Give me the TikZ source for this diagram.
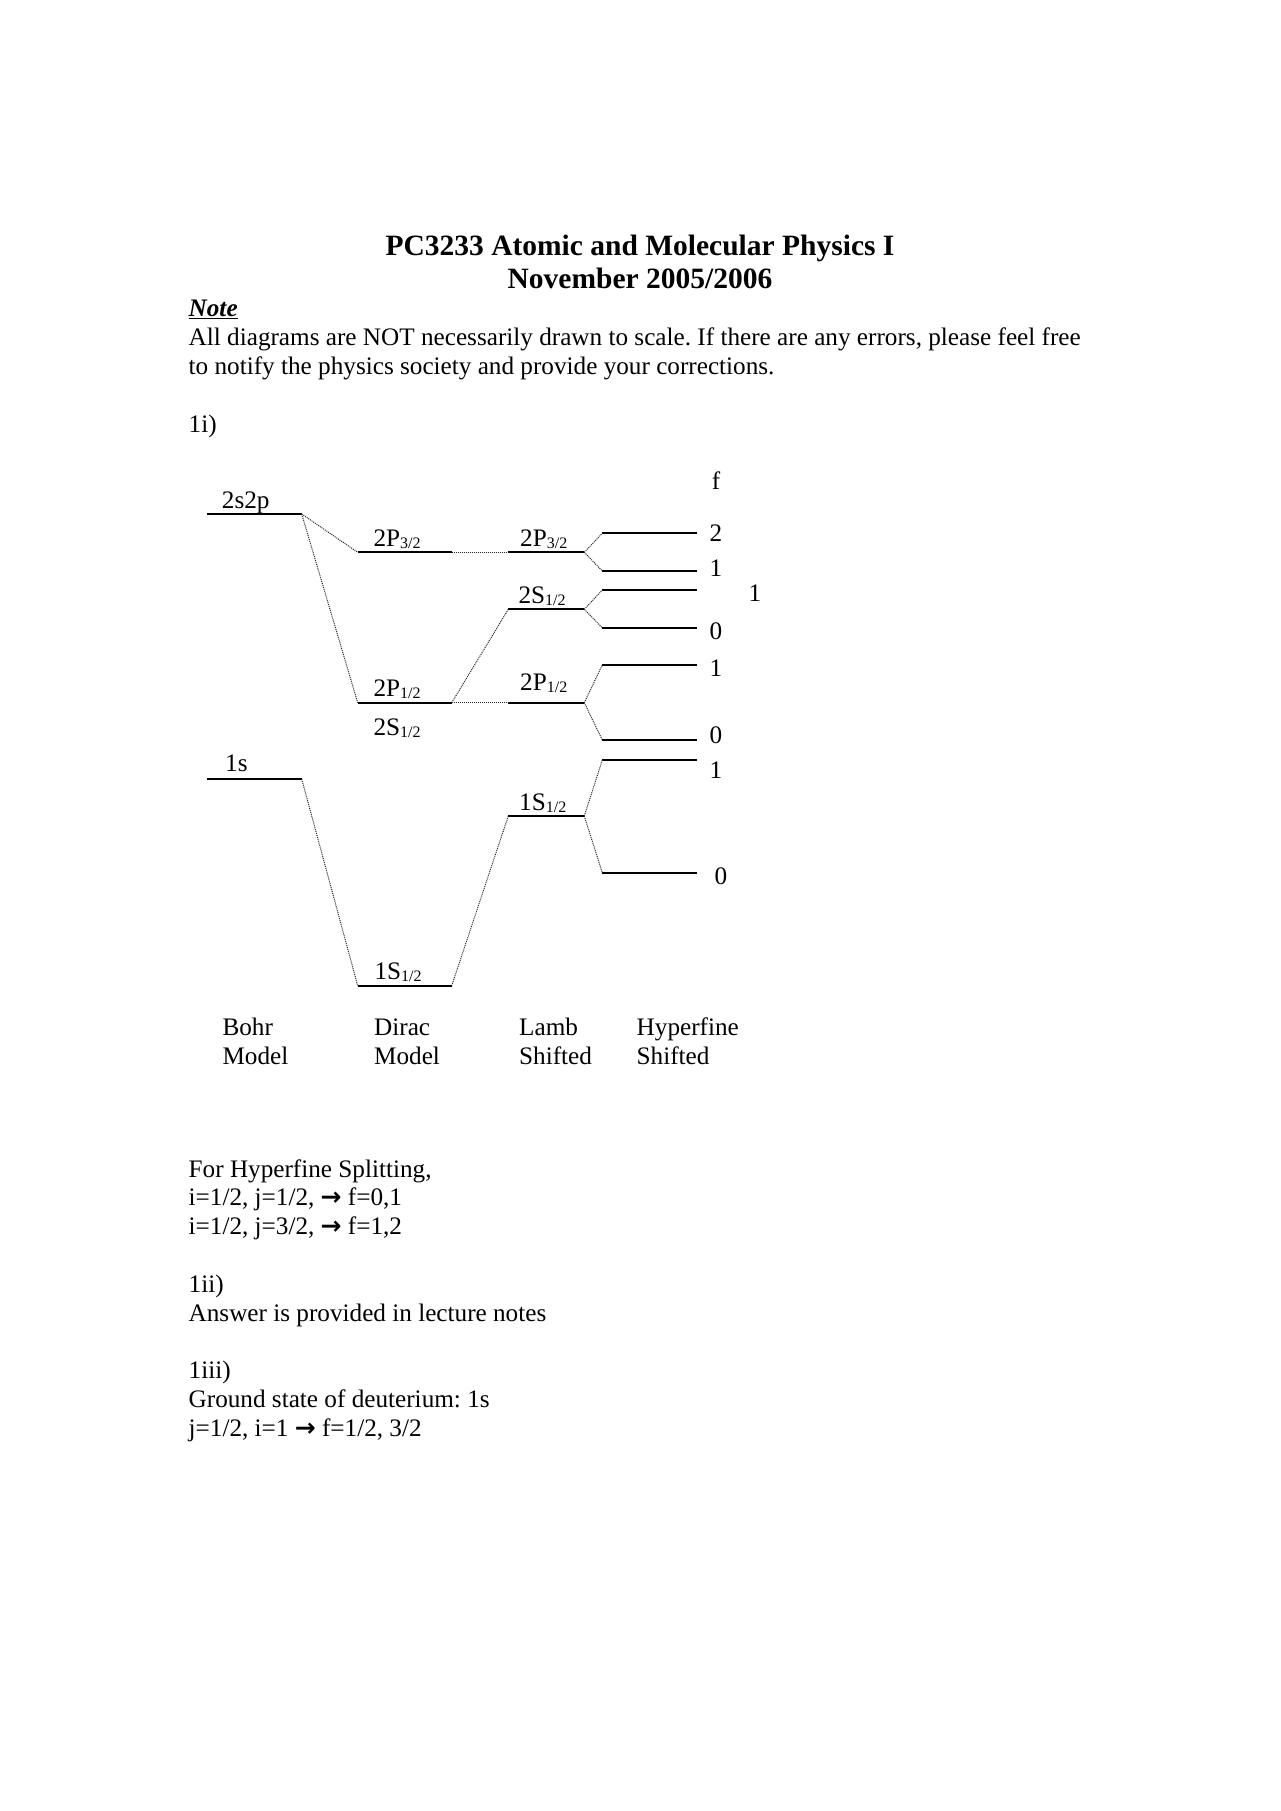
\documentclass[tikz,border=0pt]{standalone}
\usepackage{fontspec}
\setmainfont{Liberation Serif}
\newfontfamily\arrowfont{DejaVu Sans}
\newcommand{\sbs}[1]{\raisebox{-2pt}{\fontsize{16}{16}\selectfont #1}}
\newcommand{\rarr}{{\arrowfont\bfseries\fontsize{25}{25}\selectfont →}}
\frenchspacing
\begin{document}
\begin{tikzpicture}[x=1pt,y=-1pt,
  txt/.style={inner sep=0pt, anchor=base west, font=\fontsize{25.2}{28.8}\selectfont},
  ctxt/.style={inner sep=0pt, anchor=base, font=\fontsize{25.2}{28.8}\selectfont},
  ttl/.style={inner sep=0pt, anchor=base, font=\fontsize{29.5}{33}\selectfont\bfseries},
  lev/.style={line width=2pt},
  conn/.style={line width=1pt, black!85, dash pattern=on 1pt off 1pt}]
\useasboundingbox[fill=white] (0,0) rectangle (1280,1811);

% header
\node[ttl] (t1) at (640,255) {PC3233 Atomic and Molecular Physics I};
\node[ttl] (t2) at (640,288.3) {November 2005/2006};
\node[txt] (note) at (188.5,316.7) {\underline{\textbf{\textit{Note}}}};
\node[txt] (n1) at (188.5,345.5) {All diagrams are NOT necessarily drawn to scale. If there are any errors, please feel free};
\node[txt] (n2) at (188.5,374.3) {to notify the physics society and provide your corrections.};
\node[txt] (q1) at (188.5,432) {1i)};

% level coordinates
\coordinate (b2L) at (206.7,514);   \coordinate (b2R) at (301.7,514);
\coordinate (b1L) at (206.7,779);   \coordinate (b1R) at (301.7,779);
\coordinate (d3L) at (357.7,552.3); \coordinate (d3R) at (451.7,552.3);
\coordinate (d1L) at (357.7,702.7); \coordinate (d1R) at (451.7,702.7);
\coordinate (d0L) at (357.7,985.7); \coordinate (d0R) at (451.7,985.7);
\coordinate (l3L) at (508.3,552.3); \coordinate (l3R) at (584.3,552.3);
\coordinate (lsL) at (508.3,609.3); \coordinate (lsR) at (584.3,609.3);
\coordinate (lpL) at (508.3,702.7); \coordinate (lpR) at (584.3,702.7);
\coordinate (l0L) at (508.3,816);   \coordinate (l0R) at (584.3,816);
\coordinate (h2L) at (602.3,533.3); \coordinate (h2R) at (697.3,533.3);
\coordinate (h1L) at (602.3,571);   \coordinate (h1R) at (697.3,571);
\coordinate (h1bL) at (602.3,590);  \coordinate (h1bR) at (697.3,590);
\coordinate (h0L) at (602.3,627.7); \coordinate (h0R) at (697.3,627.7);
\coordinate (h1cL) at (602.3,665);  \coordinate (h1cR) at (697.3,665);
\coordinate (h0bL) at (602.3,740);  \coordinate (h0bR) at (697.3,740);
\coordinate (h1dL) at (602.3,760);  \coordinate (h1dR) at (697.3,760);
\coordinate (h0cL) at (602.3,872.7); \coordinate (h0cR) at (697.3,872.7);

% levels
\foreach \a in {b2,b1,d3,d1,d0,l3,ls,lp,l0,h2,h1,h1b,h0,h1c,h0b,h1d,h0c}
  \draw[lev] (\a L) -- (\a R);

% connectors
\draw[conn] (b2R) -- (d3L);
\draw[conn] (b2R) -- (d1L);
\draw[conn] (b1R) -- (d0L);
\draw[conn] (d3R) -- (l3L);
\draw[conn] (d1R) -- (lsL);
\draw[conn] (d1R) -- (lpL);
\draw[conn] (d0R) -- (l0L);
\draw[conn] (l3R) -- (h2L);
\draw[conn] (l3R) -- (h1L);
\draw[conn] (lsR) -- (h1bL);
\draw[conn] (lsR) -- (h0L);
\draw[conn] (lpR) -- (h1cL);
\draw[conn] (lpR) -- (h0bL);
\draw[conn] (l0R) -- (h1dL);
\draw[conn] (l0R) -- (h0cL);

% level labels
\node[txt] (lb2) at (221.7,508) {2s2p};
\node[txt] (lb1) at (225,771.7) {1s};
\node[txt] (ld3) at (373.3,546.7) {2P\sbs{3/2}};
\node[txt] (ld1) at (373.3,696.7) {2P\sbs{1/2}};
\node[txt] (ld1s) at (373.3,735) {2S\sbs{1/2}};
\node[txt] (ld0) at (374.3,979.3) {1S\sbs{1/2}};
\node[txt] (ll3) at (520,546.7) {2P\sbs{3/2}};
\node[txt] (lls) at (518.3,603.3) {2S\sbs{1/2}};
\node[txt] (llp) at (520,690.7) {2P\sbs{1/2}};
\node[txt] (ll0) at (519,810) {1S\sbs{1/2}};

% f labels
\node[ctxt] (ff) at (716,489.3) {f};
\node[ctxt] (f2) at (716,541.7) {2};
\node[ctxt] (f1) at (716,576.7) {1};
\node[ctxt] (f0) at (716,639.3) {0};
\node[ctxt] (f1c) at (716,676.7) {1};
\node[ctxt] (f0b) at (716,743.3) {0};
\node[ctxt] (f1d) at (716,778.3) {1};
\node[ctxt] (f0c) at (721,884) {0};
\node[ctxt] (fx) at (755,601.7) {1};

% column labels
\node[txt] (c1a) at (222.3,1035) {Bohr};
\node[txt] (c1b) at (222.3,1064) {Model};
\node[txt] (c2a) at (374,1035) {Dirac};
\node[txt] (c2b) at (374,1064) {Model};
\node[txt] (c3a) at (519,1035) {Lamb};
\node[txt] (c3b) at (519,1064) {Shifted};
\node[txt] (c4a) at (636.5,1035) {Hyperfine};
\node[txt] (c4b) at (636.5,1064) {Shifted};

% bottom text
\node[txt] (h1) at (188.5,1177) {For Hyperfine Splitting,};
\node[txt] (h2) at (188.5,1205.8) {i=1/2, j=1/2, \rarr{} f=0,1};
\node[txt] (h3) at (188.5,1234.6) {i=1/2, j=3/2, \rarr{} f=1,2};
\node[txt] (q2) at (188.5,1292.2) {1ii)};
\node[txt] (a2) at (188.5,1321) {Answer is provided in lecture notes};
\node[txt] (q3) at (188.5,1378.6) {1iii)};
\node[txt] (a3a) at (188.5,1407.4) {Ground state of deuterium: 1s};
\node[txt] (a3b) at (188.5,1436.2) {j=1/2, i=1 \rarr{} f=1/2, 3/2};
\end{tikzpicture}
\end{document}
